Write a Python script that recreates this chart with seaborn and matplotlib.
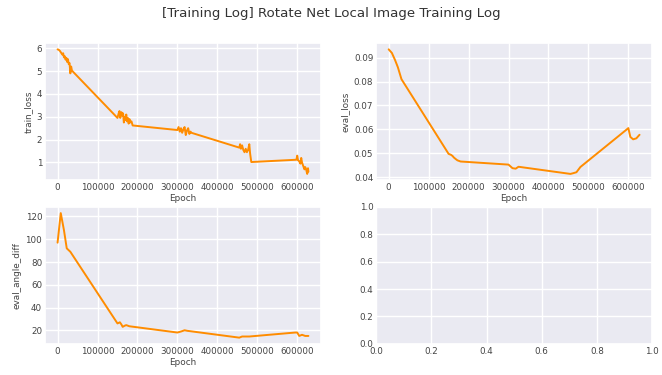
import numpy as np
import pandas as pd
import seaborn as sns
import matplotlib.pyplot as plt

# training loss log (epoch, value)
train_epoch = [0, 3000, 6000, 9000, 12000, 14000, 16000, 18000, 20000, 22000, 24000, 26000,
               28000, 30000, 32000, 34000, 36000,
               150000, 153000, 155000, 157000, 160000, 162000, 164000, 166000, 168000, 170000,
               172000, 174000, 176000, 178000, 180000, 182000, 185000, 188000,
               300000, 303000, 306000, 309000, 312000, 315000, 318000, 321000, 324000, 327000,
               330000, 333000, 335000,
               455000, 457000, 459000, 462000, 465000, 468000, 471000, 474000, 477000, 480000,
               482000, 485000,
               598000, 600000, 602000, 605000, 608000, 610000, 612000, 615000, 618000, 620000,
               622000, 625000, 627000, 628000]
train_loss = [5.95, 5.93, 5.88, 5.80, 5.72, 5.78, 5.60, 5.65, 5.50, 5.58, 5.40, 5.52,
              5.30, 5.35, 4.90, 5.20, 5.02,
              2.95, 3.15, 3.25, 2.95, 3.20, 3.05, 3.15, 2.75, 3.00, 2.85,
              3.10, 2.80, 2.95, 2.70, 2.90, 2.75, 2.80, 2.62,
              2.42, 2.55, 2.35, 2.50, 2.30, 2.45, 2.55, 2.20, 2.40, 2.50,
              2.25, 2.35, 2.30,
              1.65, 1.80, 1.60, 1.75, 1.55, 1.45, 1.60, 1.45, 1.55, 1.80,
              1.40, 1.02,
              1.12, 1.30, 1.10, 1.05, 0.95, 1.20, 1.00, 0.85, 0.70, 0.80,
              0.72, 0.50, 0.75, 0.60]

# evaluation log
eval_epoch = [0, 8000, 16000, 23000, 32000, 150000, 156000, 160000, 163000, 168000,
              172000, 180000, 300000, 310000, 318000, 325000, 455000, 462000, 470000,
              480000, 595000, 600000, 605000, 612000, 620000, 628000]
eval_loss = [0.0935, 0.0920, 0.0890, 0.0860, 0.0810, 0.0497, 0.0493, 0.0488, 0.0482, 0.0475,
             0.0470, 0.0465, 0.0452, 0.0437, 0.0435, 0.0443, 0.0413, 0.0416, 0.0420,
             0.0442, 0.0598, 0.0605, 0.0568, 0.0558, 0.0562, 0.0577]
eval_angle_diff = [97, 123, 108, 92, 89, 26, 27, 25, 23, 24,
                   24.5, 23.5, 18, 19, 20, 19.5, 13.5, 14.5, 14.5,
                   14.5, 18, 18, 15, 16, 15, 15]

train_df = pd.DataFrame({"Epoch": train_epoch, "train_loss": train_loss})
eval_df = pd.DataFrame({"Epoch": eval_epoch, "eval_loss": eval_loss,
                        "eval_angle_diff": eval_angle_diff})

sns.set_theme(style="darkgrid")
plt.rcParams["font.family"] = ["DejaVu Sans"]

fig, axes = plt.subplots(2, 2, figsize=(6.62, 3.75), dpi=100)
fig.subplots_adjust(left=0.068, right=0.985, top=0.885, bottom=0.083, wspace=0.2, hspace=0.195)

color = "darkorange"
sns.lineplot(data=train_df, x="Epoch", y="train_loss", ax=axes[0, 0], color=color, lw=1.4, sort=False)
sns.lineplot(data=eval_df, x="Epoch", y="eval_loss", ax=axes[0, 1], color=color, lw=1.4, sort=False)
sns.lineplot(data=eval_df, x="Epoch", y="eval_angle_diff", ax=axes[1, 0], color=color, lw=1.4, sort=False)

for ax in axes.flat:
    ax.tick_params(labelsize=6.3, length=0, pad=2, labelcolor="#444444")
    ax.xaxis.label.set_size(6.4)
    ax.yaxis.label.set_size(6.4)
    ax.xaxis.label.set_color("#444444")
    ax.yaxis.label.set_color("#444444")
    ax.xaxis.labelpad = 1.5
    ax.yaxis.labelpad = 3

fig.suptitle("[Training Log] Rotate Net Local Image Training Log", fontsize=9.6, y=0.982,
             color="#333333")

plt.savefig("out.png", dpi=100)
